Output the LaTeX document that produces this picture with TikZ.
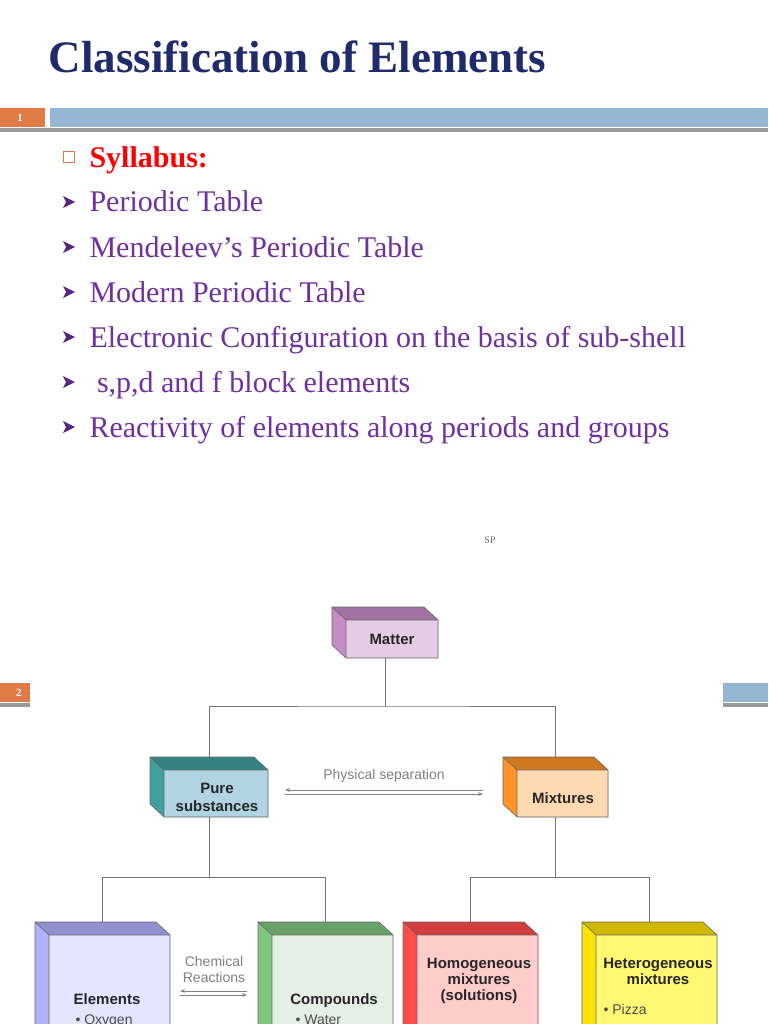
\documentclass[tikz,border=0pt]{standalone}
\usepackage{fontspec}
\setmainfont{Liberation Serif}
\newfontfamily\diag{Liberation Sans}
\usetikzlibrary{arrows.meta}
\definecolor{navy}{HTML}{1F2B6B}
\definecolor{purp}{HTML}{7030A0}
\definecolor{barblue}{HTML}{94B6D2}
\definecolor{barorange}{HTML}{E07B45}
\newcommand\mybox[7]{% name, x1, y1, x2, y2, front, side
  \fill[#7] (#2,#3) -- (#4-14,#3) -- (#4,#3+13) -- (#4,#5) -- (#2+14,#5) -- (#2,#5-13) -- cycle;
  \fill[black,opacity=0.18] (#2,#3) -- (#4-14,#3) -- (#4,#3+13) -- (#2+14,#3+13) -- cycle;
  \fill[#6] (#2+14,#3+13) rectangle (#4,#5);
  \draw[black!60,line width=0.6pt] (#2,#3) -- (#4-14,#3) -- (#4,#3+13) -- (#4,#5) -- (#2+14,#5) -- (#2,#5-13) -- cycle;
  \draw[black!60,line width=0.6pt] (#2,#3) -- (#2+14,#3+13) -- (#4,#3+13) (#2+14,#3+13) -- (#2+14,#5);
  \node[inner sep=0,minimum width=#4-#2,minimum height=#5-#3] (#1) at ({(#2+#4)/2},{(#3+#5)/2}) {};
}
\tikzset{lbl/.style={font=\diag\bfseries\fontsize{15}{18}\selectfont,align=center,text=black!85},
 tree/.style={draw=black!55,line width=1pt},
 item/.style={anchor=base west,text=purp,font=\fontsize{30}{34}\selectfont},
 arrowmark/.style={fill=purp!80!black}}
\begin{document}
\begin{tikzpicture}[x=1pt,y=-1pt]
\useasboundingbox (0,0) rectangle (768,1024);
\clip (0,0) rectangle (768,1024);
\fill[white] (0,0) rectangle (768,1024);
\node[anchor=base west,text=navy,font=\bfseries\fontsize{45}{48}\selectfont] (title) at (45,73) {Classification of Elements};
% bar 1
\fill[black!40] (0,128) rectangle (768,132);
\fill[barorange] (0,108) rectangle (45,127);
\node[text=white,font=\bfseries\fontsize{11}{12}\selectfont] (n1) at (20,118) {1};
\fill[barblue] (50,108) rectangle (768,127);
% bullets
\draw[barorange,line width=0.8pt] (63,151) rectangle (74,162);
\node[anchor=base west,text=red,font=\bfseries\fontsize{30}{34}\selectfont] (syl) at (86,168) {Syllabus:};
\foreach \y/\t [count=\i] in {212/Periodic Table,257/Mendeleev’s Periodic Table,302/Modern Periodic Table,347/Electronic Configuration on the basis of sub-shell,392/{\ s,p,d and f block elements},437/Reactivity of elements along periods and groups}{
  \fill[arrowmark] (63,\y-16) -- (75,\y-10) -- (63,\y-4) -- (66,\y-10) -- cycle;
  \node[item] (t\i) at (86,\y) {\t};
}
\node[text=black!60,font=\fontsize{10}{12}\selectfont] (sp) at (490,540) {SP};
% bar 2
\fill[black!40] (0,703) rectangle (30,707);
\fill[barorange] (0,683) rectangle (30,702);
\node[text=white,font=\bfseries\fontsize{11}{12}\selectfont] (n2) at (19,693) {2};
\fill[black!40] (723,703) rectangle (768,707);
\fill[barblue] (723,683) rectangle (768,702);
% boxes
\mybox{matter}{332}{607}{438}{658}{violet!20}{violet!45}
\mybox{pure}{150}{757}{268}{817}{cyan!35!teal!35}{teal!75}
\mybox{mix}{503}{757}{608}{817}{orange!30}{orange!85}
\mybox{elem}{35}{922}{170}{1060}{blue!10}{blue!30}
\mybox{comp}{258}{922}{393}{1060}{green!40!black!10!white}{green!55!black!50}
\mybox{homo}{403}{922}{538}{1060}{pink!80}{red!70}
\mybox{hete}{582}{922}{717}{1060}{yellow!55}{yellow!85!orange}
\draw[tree] (matter.south) -- (385,706) coordinate (j1);
\draw[tree] (pure.north) |- (j1) -| (mix.north);
\draw[tree] (pure.south) -- (209,877) coordinate (j2);
\draw[tree] (elem.north) |- (j2) -| (comp.north);
\draw[tree] (mix.south) -- (555.5,877) coordinate (j3);
\draw[tree] (homo.north) |- (j3) -| (hete.north);
\node[lbl] (lm) at (392,639) {Matter};
\node[lbl] (lp) at (217,797) {Pure\\substances};
\node[lbl] (lx) at (563,798) {Mixtures};
\node[lbl,anchor=base] (le) at (107,1004) {Elements};
\node[anchor=base west,font=\diag\fontsize{14}{16}\selectfont,text=black!70] (le2) at (72,1024) {• Oxygen};
\node[lbl,anchor=base] (lc) at (334,1004) {Compounds};
\node[anchor=base west,font=\diag\fontsize{14}{16}\selectfont,text=black!70] (lc2) at (292,1024) {• Water};
\node[lbl,anchor=north] (lh) at (479,955) {Homogeneous\\[-2pt]mixtures\\[-2pt](solutions)};
\node[lbl,anchor=north] (lt) at (658,955) {Heterogeneous\\[-2pt]mixtures};
\node[anchor=base west,font=\diag\fontsize{14}{16}\selectfont,text=black!70] (lt2) at (600,1014) {• Pizza};
\node[font=\diag\fontsize{14}{16}\selectfont,text=black!50] (ps) at (384,776) {Physical separation};
\coordinate (pa) at (285,794); \coordinate (pb) at (483,794);
\draw[black!50,line width=1pt,-{Stealth[length=5pt]}] (pa) -- (pb);
\draw[black!50,line width=1pt,-{Stealth[length=5pt]}] ([yshift=4]pb) -- ([yshift=4]pa);
\node[font=\diag\fontsize{14}{16}\selectfont,text=black!50,align=center] (cr) at (214,969) {Chemical\\Reactions};
\coordinate (ca) at (180,995); \coordinate (cb) at (247,995);
\draw[black!50,line width=1pt,-{Stealth[length=5pt]}] (ca) -- (cb);
\draw[black!50,line width=1pt,-{Stealth[length=5pt]}] ([yshift=4]cb) -- ([yshift=4]ca);
\end{tikzpicture}
\end{document}
